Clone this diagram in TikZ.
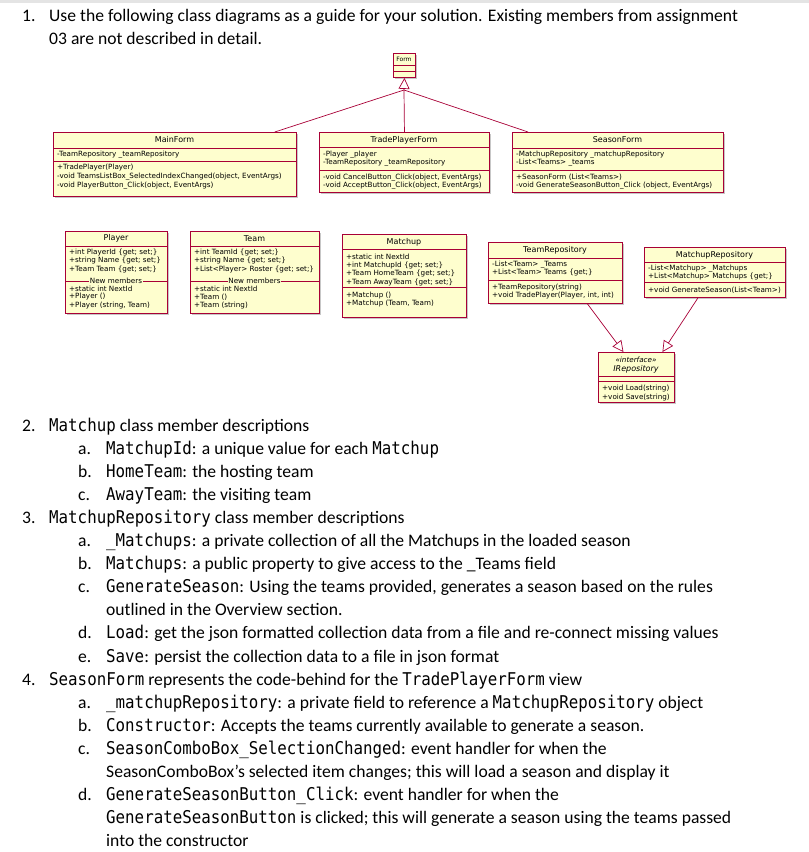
\documentclass[tikz,border=0pt]{standalone}
\usepackage{fontspec}
\setmainfont{Carlito}
\newfontfamily\codefont[FakeStretch=0.898]{DejaVu Sans Mono}
\newfontfamily\umlfont{DejaVu Sans}
\usetikzlibrary{calc,shadows,arrows.meta}
\definecolor{umlred}{HTML}{A80036}
\definecolor{umlfill}{HTML}{FEFECE}
\definecolor{topgray}{HTML}{E4E4E4}
\newcommand\cd[1]{{\codefont #1}}
\newcommand\bodyfont{\fontsize{17.6}{20}\selectfont}
\newcommand\memfont{\umlfont\fontsize{7.2}{8}\selectfont}
\newcommand\ttlfont{\umlfont\fontsize{8}{9}\selectfont}
\tikzset{
  cls/.style={draw=umlred, fill=umlfill, line width=0.9pt, inner sep=0pt, anchor=north west,
    drop shadow={shadow xshift=1.8pt, shadow yshift=-1.8pt, fill=black!40, opacity=0.55}},
  sep/.style={draw=umlred, line width=0.9pt},
  mem/.style={font=\memfont, anchor=west, inner sep=0pt},
  ttl/.style={font=\ttlfont, inner sep=0pt},
  newm/.style={font=\memfont, fill=umlfill, inner sep=0.8pt},
  link/.style={draw=umlred, line width=0.7pt},
  inh/.style={draw=umlred, line width=0.7pt, -{Triangle[open, length=11pt, width=11pt]}},
  txt/.style={font=\bodyfont, anchor=base west, inner sep=0pt},
}
\begin{document}
\begin{tikzpicture}[x=1pt,y=-1pt]
\useasboundingbox (0,0) rectangle (809,852);
\fill[topgray] (0,0) rectangle (809,3);

% ---------- heading text ----------
\node[txt] (n1) at (22,21) {1.};
\node[txt] (l1) at (49,21) {Use the following class diagrams as a guide for your solution. Existing members from assignment};
\node[txt] (l2) at (49,44) {03 are not described in detail.};

% ---------- Form ----------
\node[cls, minimum width=22pt, minimum height=24pt] (form) at (393,53) {};
\node[ttl, font=\umlfont\fontsize{6}{6}\selectfont] (formt) at (404,59.5) {Form};
\draw[sep] ($(form.north west)+(0,12)$) -- ($(form.north east)+(0,12)$);
\draw[sep] ($(form.north west)+(0,18)$) -- ($(form.north east)+(0,18)$);

% ---------- MainForm ----------
\node[cls, minimum width=243pt, minimum height=64pt] (mainform) at (53,132) {};
\node[ttl] (mft) at (174.5,140) {MainForm};
\draw[sep] ($(mainform.north west)+(0,16)$) -- ($(mainform.north east)+(0,16)$);
\draw[sep] ($(mainform.north west)+(0,29)$) -- ($(mainform.north east)+(0,29)$);
\node[mem] (mf1) at (57,154.5) {-TeamRepository \_teamRepository};
\node[mem] (mf2) at (57,168) {+TradePlayer(Player)};
\node[mem] (mf3) at (57,177) {-void TeamsListBox\_SelectedIndexChanged(object, EventArgs)};
\node[mem] (mf4) at (57,186) {-void PlayerButton\_Click(object, EventArgs)};

% ---------- TradePlayerForm ----------
\node[cls, minimum width=170pt, minimum height=60pt] (tpform) at (319,132) {};
\node[ttl] (tpt) at (404,140) {TradePlayerForm};
\draw[sep] ($(tpform.north west)+(0,15.5)$) -- ($(tpform.north east)+(0,15.5)$);
\draw[sep] ($(tpform.north west)+(0,38.5)$) -- ($(tpform.north east)+(0,38.5)$);
\node[mem] (tp1) at (323,154.5) {-Player \_player};
\node[mem] (tp2) at (323,163) {-TeamRepository \_teamRepository};
\node[mem] (tp3) at (323,177.5) {-void CancelButton\_Click(object, EventArgs)};
\node[mem] (tp4) at (323,186) {-void AcceptButton\_Click(object, EventArgs)};

% ---------- SeasonForm ----------
\node[cls, minimum width=211pt, minimum height=60pt] (seasonform) at (512,132) {};
\node[ttl] (sft) at (617.5,140) {SeasonForm};
\draw[sep] ($(seasonform.north west)+(0,16)$) -- ($(seasonform.north east)+(0,16)$);
\draw[sep] ($(seasonform.north west)+(0,38.5)$) -- ($(seasonform.north east)+(0,38.5)$);
\node[mem] (sf1) at (516,154.5) {-MatchupRepository \_matchupRepository};
\node[mem] (sf2) at (516,163) {-List<Teams> \_teams};
\node[mem] (sf3) at (516,177.5) {+SeasonForm (List<Teams>)};
\node[mem] (sf4) at (516,186) {-void GenerateSeasonButton\_Click (object, EventArgs)};

% inheritance to Form
\coordinate (join) at (404,90);
\draw[inh] (join) -- (form.south);
\draw[link] (join) -- (mainform);
\draw[link] (join) -- (tpform.north);
\draw[link] (join) -- (seasonform);

% ---------- Player ----------
\node[cls, minimum width=102pt, minimum height=82pt] (player) at (65,231) {};
\node[ttl] (plt) at (116,238.5) {Player};
\draw[sep] ($(player.north west)+(0,15)$) -- ($(player.north east)+(0,15)$);
\draw[sep] ($(player.north west)+(0,50)$) -- ($(player.north east)+(0,50)$);
\node[newm] (plnm) at (116,281) {New members};
\node[mem] (pl1) at (69,252.5) {+int PlayerId \{get; set;\}};
\node[mem] (pl2) at (69,261) {+string Name \{get; set;\}};
\node[mem] (pl3) at (69,269.5) {+Team Team \{get; set;\}};
\node[mem] (pl4) at (69,288.5) {+static int NextId};
\node[mem] (pl5) at (69,297) {+Player ()};
\node[mem] (pl6) at (69,305.5) {+Player (string, Team)};

% ---------- Team ----------
\node[cls, minimum width=129pt, minimum height=82pt] (team) at (190,231) {};
\node[ttl] (tmt) at (254.5,238.5) {Team};
\draw[sep] ($(team.north west)+(0,15)$) -- ($(team.north east)+(0,15)$);
\draw[sep] ($(team.north west)+(0,50)$) -- ($(team.north east)+(0,50)$);
\node[newm] (tmnm) at (254.5,281) {New members};
\node[mem] (tm1) at (194,252.5) {+int TeamId \{get; set;\}};
\node[mem] (tm2) at (194,261) {+string Name \{get; set;\}};
\node[mem] (tm3) at (194,269.5) {+List<Player> Roster \{get; set;\}};
\node[mem] (tm4) at (194,288.5) {+static int NextId};
\node[mem] (tm5) at (194,297) {+Team ()};
\node[mem] (tm6) at (194,305.5) {+Team (string)};

% ---------- Matchup ----------
\node[cls, minimum width=124pt, minimum height=83pt] (matchup) at (342,234) {};
\node[ttl] (mut) at (404,242) {Matchup};
\draw[sep] ($(matchup.north west)+(0,15.5)$) -- ($(matchup.north east)+(0,15.5)$);
\draw[sep] ($(matchup.north west)+(0,53)$) -- ($(matchup.north east)+(0,53)$);
\node[mem] (mu1) at (346,257) {+static int NextId};
\node[mem] (mu2) at (346,265.5) {+int MatchupId \{get; set;\}};
\node[mem] (mu3) at (346,274) {+Team HomeTeam \{get; set;\}};
\node[mem] (mu4) at (346,282.5) {+Team AwayTeam \{get; set;\}};
\node[mem] (mu5) at (346,295.5) {+Matchup ()};
\node[mem] (mu6) at (346,304) {+Matchup (Team, Team)};

% ---------- TeamRepository ----------
\node[cls, minimum width=134pt, minimum height=61pt] (teamrepo) at (488,242) {};
\node[ttl] (trt) at (555,250) {TeamRepository};
\draw[sep] ($(teamrepo.north west)+(0,16)$) -- ($(teamrepo.north east)+(0,16)$);
\draw[sep] ($(teamrepo.north west)+(0,38.5)$) -- ($(teamrepo.north east)+(0,38.5)$);
\node[mem] (tr1) at (492,264.5) {-List<Team> \_Teams};
\node[mem] (tr2) at (492,273) {+List<Team> Teams \{get;\}};
\node[mem] (tr3) at (492,287.5) {+TeamRepository(string)};
\node[mem] (tr4) at (492,296) {+void TradePlayer(Player, int, int)};

% ---------- MatchupRepository ----------
\node[cls, minimum width=141pt, minimum height=50pt] (matchrepo) at (644,247) {};
\node[ttl] (mrt) at (714.5,255) {MatchupRepository};
\draw[sep] ($(matchrepo.north west)+(0,15.5)$) -- ($(matchrepo.north east)+(0,15.5)$);
\draw[sep] ($(matchrepo.north west)+(0,35.5)$) -- ($(matchrepo.north east)+(0,35.5)$);
\node[mem] (mr1) at (648,268.5) {-List<Matchup> \_Matchups};
\node[mem] (mr2) at (648,276.5) {+List<Matchup> Matchups \{get;\}};
\node[mem] (mr3) at (648,290) {+void GenerateSeason(List<Team>)};

% ---------- IRepository ----------
\node[cls, minimum width=76pt, minimum height=50pt] (irepo) at (598,352) {};
\node[ttl, font=\umlfont\itshape\fontsize{7.2}{8}\selectfont] (irs) at (636,360) {«interface»};
\node[ttl, font=\umlfont\itshape\fontsize{8}{9}\selectfont] (irt) at (636,369) {IRepository};
\draw[sep] ($(irepo.north west)+(0,24)$) -- ($(irepo.north east)+(0,24)$);
\draw[sep] ($(irepo.north west)+(0,29)$) -- ($(irepo.north east)+(0,29)$);
\node[mem] (ir1) at (602,389) {+void Load(string)};
\node[mem] (ir2) at (602,397.5) {+void Save(string)};

\draw[inh] ($(teamrepo.south)+(32,0)$) -- ($(irepo.north)+(-13,0)$);
\draw[inh] ($(matchrepo.south)+(-17,0)$) -- ($(irepo.north)+(26,0)$);

% ---------- descriptions ----------
\node[txt] (k2) at (22,431) {2.};
\node[txt] (t2) at (49,431) {\cd{Matchup} class member descriptions};
\node[txt] (k2a) at (78,454.1) {a.};
\node[txt] (t2a) at (106,454.1) {\cd{MatchupId}: a unique value for each \cd{Matchup}};
\node[txt] (k2b) at (78,477.2) {b.};
\node[txt] (t2b) at (106,477.2) {\cd{HomeTeam}: the hosting team};
\node[txt] (k2c) at (78,500.3) {c.};
\node[txt] (t2c) at (106,500.3) {\cd{AwayTeam}: the visiting team};
\node[txt] (k3) at (22,523.4) {3.};
\node[txt] (t3) at (49,523.4) {\cd{MatchupRepository} class member descriptions};
\node[txt] (k3a) at (78,546.5) {a.};
\node[txt] (t3a) at (106,546.5) {\cd{\_Matchups}: a private collection of all the Matchups in the loaded season};
\node[txt] (k3b) at (78,569.6) {b.};
\node[txt] (t3b) at (106,569.6) {\cd{Matchups}: a public property to give access to the \_Teams field};
\node[txt] (k3c) at (78,592.7) {c.};
\node[txt] (t3c) at (106,592.7) {\cd{GenerateSeason}: Using the teams provided, generates a season based on the rules};
\node[txt] (t3c2) at (106,615.8) {outlined in the Overview section.};
\node[txt] (k3d) at (78,638.9) {d.};
\node[txt] (t3d) at (106,638.9) {\cd{Load}: get the json formatted collection data from a file and re-connect missing values};
\node[txt] (k3e) at (78,662) {e.};
\node[txt] (t3e) at (106,662) {\cd{Save}: persist the collection data to a file in json format};
\node[txt] (k4) at (22,685.1) {4.};
\node[txt] (t4) at (49,685.1) {\cd{SeasonForm} represents the code-behind for the \cd{TradePlayerForm} view};
\node[txt] (k4a) at (78,708.2) {a.};
\node[txt] (t4a) at (106,708.2) {\cd{\_matchupRepository}: a private field to reference a \cd{MatchupRepository} object};
\node[txt] (k4b) at (78,731.3) {b.};
\node[txt] (t4b) at (106,731.3) {\cd{Constructor}: Accepts the teams currently available to generate a season.};
\node[txt] (k4c) at (78,754.4) {c.};
\node[txt] (t4c) at (106,754.4) {\cd{SeasonComboBox\_SelectionChanged}: event handler for when the};
\node[txt] (t4c2) at (106,777.5) {SeasonComboBox's selected item changes; this will load a season and display it};
\node[txt] (k4d) at (78,800.6) {d.};
\node[txt] (t4d) at (106,800.6) {\cd{GenerateSeasonButton\_Click}: event handler for when the};
\node[txt] (t4d2) at (106,823.7) {\cd{GenerateSeasonButton} is clicked; this will generate a season using the teams passed};
\node[txt] (t4d3) at (106,846.8) {into the constructor};
\end{tikzpicture}
\end{document}
